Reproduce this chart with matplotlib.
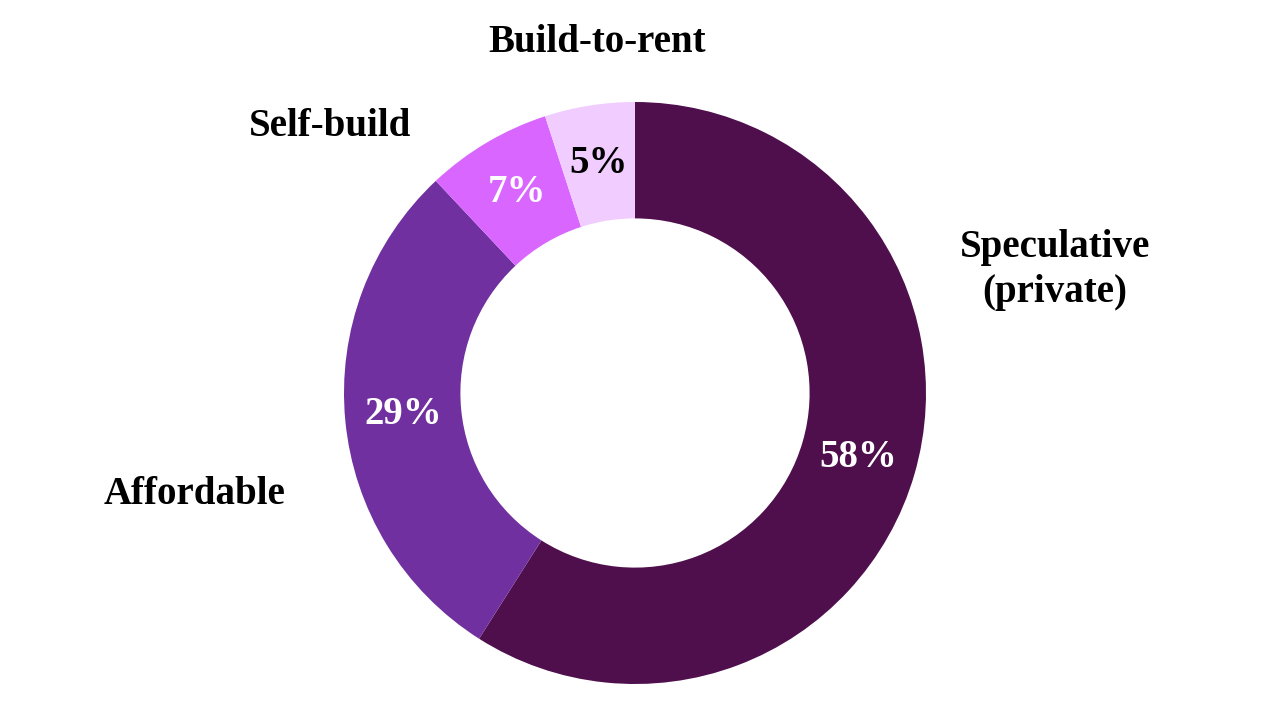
import matplotlib
matplotlib.use("Agg")
import matplotlib.pyplot as plt

categories = ["Speculative\n(private)", "Affordable", "Self-build", "Build-to-rent"]
values = [59, 29, 7, 5]
colors = ["#4F0F4D", "#70309F", "#D966FF", "#F0CCFF"]
pct_colors = ["white", "white", "white", "black"]
label_pos = [(1055, 270), (195, 495), (330, 127), (597, 43)]

fig = plt.figure(figsize=(12.61, 7.08), dpi=100)
ax = fig.add_axes([0, 0, 1, 1])
ax.set_xlim(0, 1261)
ax.set_ylim(0, 708)
ax.set_aspect("equal")
ax.axis("off")

wedges, texts, autotexts = ax.pie(
    values, colors=colors, startangle=90, counterclock=False,
    center=(635, 315), radius=291, autopct="%d%%", pctdistance=0.8,
    wedgeprops=dict(width=0.4 * 291, edgecolor="none"),
    textprops=dict(family="Liberation Serif", fontweight="bold", fontsize=28))
ax.set_xlim(0, 1261)
ax.set_ylim(0, 708)
for t, c in zip(autotexts, pct_colors):
    t.set_color(c)
for cat, (x, y) in zip(categories, label_pos):
    ax.text(x, 708 - y, cat, ha="center", va="center", family="Liberation Serif",
            fontweight="bold", fontsize=28, linespacing=1.3)

fig.savefig("out.png", dpi=100)
